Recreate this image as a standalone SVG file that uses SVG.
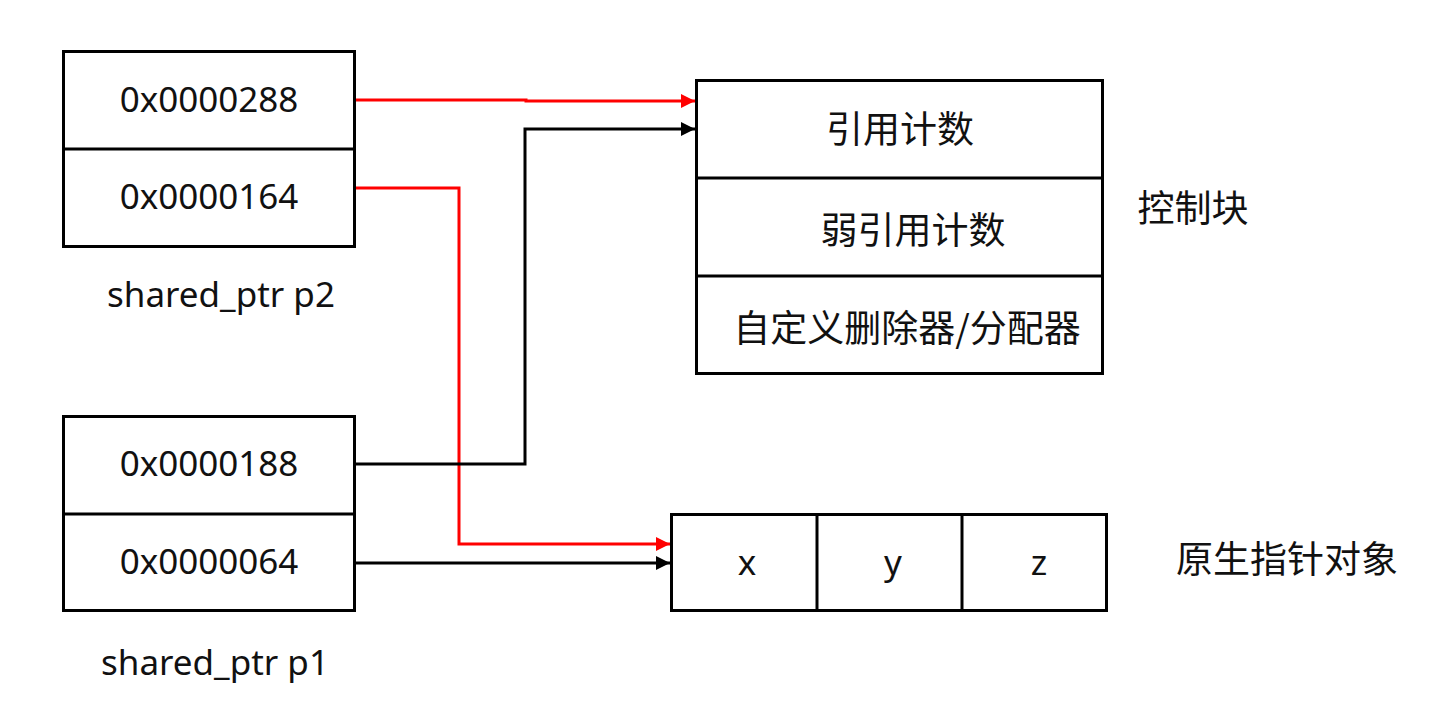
<svg xmlns="http://www.w3.org/2000/svg" width="1440" height="716" viewBox="0 0 1440 716">
<style>
.box{fill:#fff;stroke:#000;stroke-width:3}
.div{stroke:#000;stroke-width:3}
.t{font-family:"Noto Sans","Noto Sans CJK SC",sans-serif;font-size:35px;fill:#111;text-anchor:middle;dominant-baseline:central}
.c{font-family:"Noto Sans CJK SC",sans-serif;font-size:37px;fill:#111;text-anchor:middle;dominant-baseline:central}
.red{fill:none;stroke:#f00;stroke-width:3}
.blk{fill:none;stroke:#000;stroke-width:3}
</style>
<defs>
<marker id="ar" markerUnits="userSpaceOnUse" markerWidth="14" markerHeight="14" refX="14" refY="7" orient="auto"><path d="M0,0 L14,7 L0,14 Z" fill="#f00"/></marker>
<marker id="ab" markerUnits="userSpaceOnUse" markerWidth="14" markerHeight="14" refX="14" refY="7" orient="auto"><path d="M0,0 L14,7 L0,14 Z" fill="#000"/></marker>
</defs>
<rect width="1440" height="716" fill="#fff"/>
<g id="p2">
<rect class="box" x="63.5" y="51.5" width="291" height="195"/>
<line class="div" x1="63" y1="149" x2="355" y2="149"/>
<text class="t" x="209" y="98">0x0000288</text>
<text class="t" x="209" y="195">0x0000164</text>
<text class="t" x="221" y="293">shared_ptr p2</text>
</g>
<g id="p1">
<rect class="box" x="63.5" y="416.5" width="291" height="194"/>
<line class="div" x1="63" y1="514" x2="355" y2="514"/>
<text class="t" x="209" y="462">0x0000188</text>
<text class="t" x="209" y="560">0x0000064</text>
<text class="t" x="215" y="661">shared_ptr p1</text>
</g>
<g id="control">
<rect class="box" x="696.5" y="80.5" width="406" height="293"/>
<line class="div" x1="696" y1="178" x2="1104" y2="178"/>
<line class="div" x1="696" y1="276" x2="1104" y2="276"/>
<text class="c" x="900" y="127">引用计数</text>
<text class="c" x="913" y="228">弱引用计数</text>
<text class="c" x="907" y="326">自定义删除器/分配器</text>
<text class="c" x="1193" y="206">控制块</text>
</g>
<g id="object">
<rect class="box" x="671.5" y="514.5" width="435" height="96"/>
<line class="div" x1="817" y1="514" x2="817" y2="611"/>
<line class="div" x1="962" y1="514" x2="962" y2="611"/>
<text class="t" x="747" y="561">x</text>
<text class="t" x="893" y="561">y</text>
<text class="t" x="1039" y="561">z</text>
<text class="c" x="1287" y="557">原生指针对象</text>
</g>
<g id="connectors">
<polyline class="red" points="356,100 526,100 526,101 695,101" marker-end="url(#ar)"/>
<polyline class="red" points="356,188 459,188 459,544 670,544" marker-end="url(#ar)"/>
<polyline class="blk" points="356,464 525,464 525,129 695,129" marker-end="url(#ab)"/>
<polyline class="blk" points="356,563 670,563" marker-end="url(#ab)"/>
</g>
</svg>
